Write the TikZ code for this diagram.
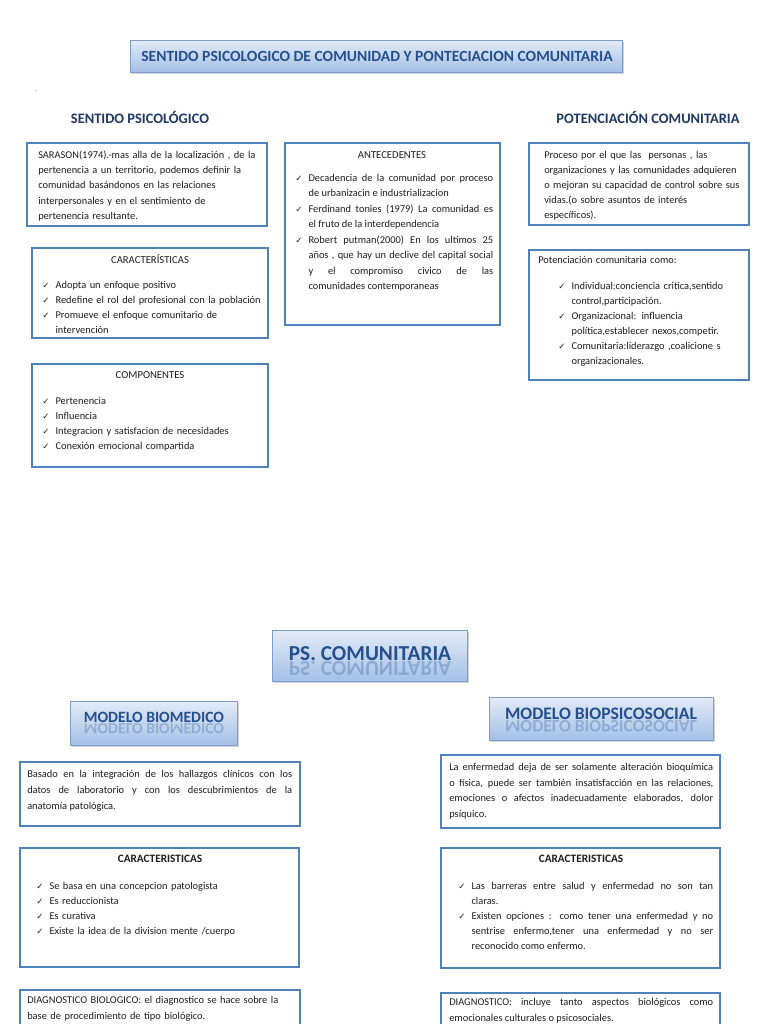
\documentclass[tikz,border=0pt]{standalone}
\usepackage{fontspec}
\setmainfont{Carlito}
\newfontfamily\symfont{DejaVu Sans}
\usetikzlibrary{shadows}
\definecolor{bBlue}{HTML}{4F81BD}
\definecolor{bEdge}{HTML}{7F9DCB}
\definecolor{fTop}{HTML}{E3EBF7}
\definecolor{fBot}{HTML}{A4C0E6}
\definecolor{tBlue}{HTML}{24508F}
\definecolor{hBlue}{HTML}{1F3864}
\definecolor{ink}{HTML}{1E1E1E}
\newcommand{\ck}{\makebox[10.6pt][l]{\symfont\fontsize{6.8}{6}\selectfont ✓}}
\newcommand{\itm}[1]{\hangindent=10.6pt\hangafter=1\noindent\ck#1\par}

\begin{document}
\begin{tikzpicture}[x=0.797pt, y=-0.797pt,
    frame/.style={draw=bBlue, line width=1.3pt},
    banner/.style={draw=bEdge, line width=0.6pt, top color=fTop, bottom color=fBot,
      drop shadow={shadow xshift=1.6pt, shadow yshift=-1.6pt, opacity=0.35}},
    body/.style={anchor=north west, inner sep=0pt, yshift=-1.6pt, text=ink, align=left,
      font=\fontsize{8.3}{12}\selectfont},
    just/.style={body, align=justify},
    boxhead/.style={inner sep=0pt, text=ink, font=\fontsize{8.5}{10}\selectfont},
    head/.style={inner sep=0pt, text=hBlue, font=\fontsize{11.5}{13}\selectfont\bfseries},
    bigtxt/.style={inner sep=0pt, anchor=base, text=tBlue, font=\bfseries},
    refl/.style={bigtxt, yscale=-1, opacity=0.28}]
  \fill[white] (0,0) rectangle (768,1024);
  \useasboundingbox (0,0) rectangle (768,1024);

  % upper sheet
  \path[banner] (130,40) rectangle (622,72);
  \node[inner sep=0pt, text=tBlue, font=\fontsize{12.4}{14}\selectfont\bfseries] (title) at (377,56)
    {SENTIDO PSICOLOGICO DE COMUNIDAD Y PONTECIACION COMUNITARIA};
  \node[inner sep=0pt, font=\tiny, text=ink] (stray) at (36,91) {.};
  \node[head] (sentido) at (140,117) {SENTIDO PSICOLÓGICO};
  \node[head] (potencia) at (648,117) {POTENCIACIÓN COMUNITARIA};

  \draw[frame] (27,143) rectangle (267,226);
  \node[body, text width=184pt] (sarason) at (38,149)
    {SARASON(1974).-mas alla de la localización , de la\\
     pertenencia a un territorio, podemos definir la\\
     comunidad basándonos en las relaciones\\
     interpersonales y en el sentimiento de\\
     pertenencia resultante.};

  \draw[frame] (32,248) rectangle (268,338);
  \node[boxhead] (carac) at (150,259) {CARACTERÍSTICAS};
  \node[body, text width=182pt] (caraclist) at (42,279)
    {\itm{Adopta un enfoque positivo}
     \itm{Redefine el rol del profesional con la población}
     \itm{Promueve el enfoque comunitario de\newline intervención}};

  \draw[frame] (32,364) rectangle (268,467);
  \node[boxhead] (compo) at (150,375) {COMPONENTES};
  \node[body, text width=182pt] (compolist) at (42,395)
    {\itm{Pertenencia}
     \itm{Influencia}
     \itm{Integracion y satisfacion de necesidades}
     \itm{Conexión emocional compartida}};

  \draw[frame] (285,143) rectangle (500,325);
  \node[boxhead] (antec) at (392,155) {ANTECEDENTES};
  \node[just, text width=157.8pt, font=\fontsize{8.3}{12.3}\selectfont] (anteclist) at (295,172)
    {\itm{Decadencia de la comunidad por proceso \linebreak de urbanizacin e industrializacion}
     \itm{Ferdinand tonies (1979) La comunidad es \linebreak el fruto de la interdependencia}
     \itm{Robert putman(2000) En los ultimos 25 \linebreak años , que hay un declive del capital social \linebreak
       y el compromiso civico de las \linebreak comunidades contemporaneas}};

  \draw[frame] (529,143) rectangle (749,225);
  \node[body, text width=172pt] (proceso) at (544,149)
    {Proceso por el que las \ personas , las\\
     organizaciones y las comunidades adquieren\\
     o mejoran su capacidad de control sobre sus\\
     vidas.(o sobre asuntos de interés\\
     específicos).};

  \draw[frame] (529,250) rectangle (749,380);
  \node[body, text width=170pt] (comolead) at (538,254) {Potenciación comunitaria como:};
  \node[body, text width=150pt] (comolist) at (558,280)
    {\itm{Individual:conciencia critica,sentido\newline control,participación.}
     \itm{Organizacional: influencia\newline política,establecer nexos,competir.}
     \itm{Comunitaria:liderazgo ,coalicione s\newline organizacionales.}};

  % lower sheet
  \path[banner] (272,630) rectangle (467,681);
  \begin{scope}
    \clip (272,630) rectangle (467,681);
    \node[refl, font=\fontsize{17}{19}\selectfont\bfseries] (psrefl) at (370,661) {PS. COMUNITARIA};
  \end{scope}
  \node[bigtxt, font=\fontsize{17}{19}\selectfont\bfseries] (ps) at (370,660) {PS. COMUNITARIA};

  \path[banner] (70,701) rectangle (237,745);
  \begin{scope}
    \clip (70,701) rectangle (237,745);
    \node[refl, font=\fontsize{12.5}{14}\selectfont\bfseries] (biomrefl) at (154,723) {MODELO BIOMEDICO};
  \end{scope}
  \node[bigtxt, font=\fontsize{12.5}{14}\selectfont\bfseries] (biom) at (154,722) {MODELO BIOMEDICO};

  \path[banner] (489,697) rectangle (713,740);
  \begin{scope}
    \clip (489,697) rectangle (713,740);
    \node[refl, font=\fontsize{14}{16}\selectfont\bfseries] (biopsrefl) at (601,720) {MODELO BIOPSICOSOCIAL};
  \end{scope}
  \node[bigtxt, font=\fontsize{14}{16}\selectfont\bfseries] (biops) at (601,719) {MODELO BIOPSICOSOCIAL};

  \draw[frame] (20,762) rectangle (300,826);
  \node[just, text width=211.2pt, font=\fontsize{8.3}{12.75}\selectfont] (basado) at (27,768)
    {Basado en la integración de los hallazgos clínicos con los \linebreak
     datos de laboratorio y con los descubrimientos de la \linebreak
     anatomía patológica.};

  \draw[frame] (441,755) rectangle (720,828);
  \node[just, text width=210.4pt, font=\fontsize{8.3}{12.5}\selectfont] (enferm) at (449,761)
    {La enfermedad deja de ser solamente alteración bioquímica \linebreak
     o física, puede ser también insatisfacción en las relaciones, \linebreak
     emociones o afectos inadecuadamente elaborados, dolor \linebreak
     psíquico.};

  \draw[frame] (20,848) rectangle (299,967);
  \node[boxhead, font=\fontsize{9}{11}\selectfont\bfseries] (caracbio) at (160,859) {CARACTERISTICAS};
  \node[body, text width=200pt] (caracbiolist) at (36,880)
    {\itm{Se basa en una concepcion patologista}
     \itm{Es reduccionista}
     \itm{Es curativa}
     \itm{Existe la idea de la division mente /cuerpo}};

  \draw[frame] (441,848) rectangle (720,968);
  \node[boxhead, font=\fontsize{9}{11}\selectfont\bfseries] (caracbps) at (581,859) {CARACTERISTICAS};
  \node[just, text width=203.2pt] (caracbpslist) at (458,880)
    {\itm{Las barreras entre salud y enfermedad no son tan \linebreak claras.}
     \itm{Existen opciones : como tener una enfermedad y no \linebreak
       sentrise enfermo,tener una enfermedad y no ser \linebreak reconocido como enfermo.}};

  \draw[frame] (20,990) rectangle (300,1040);
  \node[body, text width=218pt, font=\fontsize{8.3}{13}\selectfont] (diagbio) at (27,994)
    {DIAGNOSTICO BIOLOGICO: el diagnostico se hace sobre la\\
     base de procedimiento de tipo biológico.};

  \draw[frame] (441,993) rectangle (720,1040);
  \node[just, text width=210.4pt, font=\fontsize{8.3}{13}\selectfont] (diagbps) at (449,996)
    {DIAGNOSTICO: incluye tanto aspectos biológicos como \linebreak
     emocionales culturales o psicosociales.};
\end{tikzpicture}
\end{document}
